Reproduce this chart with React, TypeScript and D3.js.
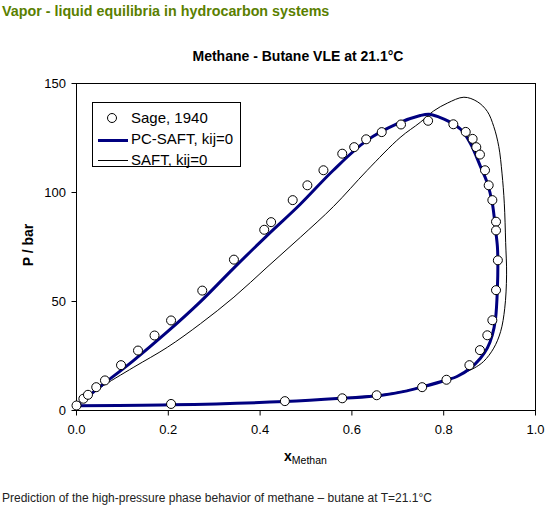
import * as d3 from 'd3'

// x = mole fraction methane, P in bar
const sageBubble: [number, number][] = [
  [0.0, 2.3], [0.015, 5.4], [0.025, 7.2], [0.043, 10.7], [0.062, 13.8],
  [0.097, 20.8], [0.134, 27.5], [0.17, 34.4], [0.206, 41.3], [0.274, 55.0],
  [0.343, 69.2], [0.409, 82.9], [0.424, 86.4], [0.471, 96.5], [0.503, 103.3],
  [0.538, 110.2], [0.579, 117.8], [0.605, 120.8], [0.631, 124.4], [0.665, 127.7],
  [0.707, 131.2], [0.766, 132.9],
]

const sageDew: [number, number][] = [
  [0.821, 131.3], [0.848, 127.8], [0.863, 124.6], [0.871, 120.8], [0.879, 117.4],
  [0.89, 110.2], [0.898, 103.3], [0.906, 96.5], [0.914, 86.6], [0.914, 82.6],
  [0.918, 68.9], [0.914, 55.2], [0.906, 41.4], [0.895, 34.5], [0.879, 27.7],
  [0.856, 20.8], [0.806, 14.1], [0.753, 10.7], [0.654, 7.0], [0.579, 5.6],
  [0.454, 4.3], [0.206, 3.0],
]

const pcSaft: [number, number][] = [
  [0.0, 2.2], [0.03, 7.3], [0.051, 10.9], [0.124, 22.9], [0.197, 35.9],
  [0.269, 49.7], [0.342, 65.2], [0.414, 80], [0.487, 94.5], [0.559, 110.1],
  [0.632, 123.8], [0.698, 131.5], [0.749, 135.3], [0.768, 135.9], [0.79, 134.6],
  [0.811, 132.6], [0.837, 129], [0.858, 122.6], [0.88, 112], [0.895, 104.3],
  [0.906, 95], [0.913, 82.9], [0.917, 75.2], [0.918, 68.3], [0.917, 56.1],
  [0.913, 42.3], [0.906, 34.7], [0.895, 28.6], [0.88, 24], [0.858, 19.4],
  [0.829, 15.6], [0.808, 14.1], [0.757, 11], [0.72, 9], [0.662, 6.9],
  [0.579, 5.6], [0.454, 4.1], [0.206, 2.6], [0.0, 2.2],
]

const saft: [number, number][] = [
  [0.0, 2.2], [0.03, 7.0], [0.052, 10.5], [0.125, 19.9], [0.198, 29.0],
  [0.27, 39.8], [0.343, 52], [0.415, 65.7], [0.488, 79.5], [0.56, 93.6],
  [0.633, 110.1], [0.705, 125.2], [0.749, 132.2], [0.778, 137.4], [0.808, 141],
  [0.844, 143.7], [0.873, 141.7], [0.895, 137.2], [0.909, 130.3], [0.92, 121.1],
  [0.927, 108.9], [0.932, 95.1], [0.935, 77], [0.937, 62.2], [0.933, 46.9],
  [0.924, 36.2], [0.909, 28.6], [0.887, 22.5], [0.866, 19.4], [0.851, 17.9],
  [0.83, 15.8], [0.808, 14.3], [0.757, 11.2], [0.72, 9.2], [0.662, 7.2],
  [0.579, 5.8], [0.454, 4.2], [0.206, 2.7], [0.0, 2.2],
]

const xTicks = [0, 0.2, 0.4, 0.6, 0.8, 1.0]
const yTicks = [0, 50, 100, 150]
const legendItems = ['Sage, 1940', 'PC-SAFT, kij=0', 'SAFT, kij=0']

const font = 'Arial, "Liberation Sans", sans-serif'

const App = () => {
  const x = d3.scaleLinear().domain([0, 1]).range([76.5, 535.5])
  const y = d3.scaleLinear().domain([0, 150]).range([410.5, 83.5])

  const line = d3.line<[number, number]>()
    .x(d => x(d[0]))
    .y(d => y(d[1]))
    .curve(d3.curveCatmullRom.alpha(0.5))

  const points = [...sageBubble, ...sageDew]

  return (
    <svg width={551} height={512} style={{ position: 'absolute', left: 0, top: 0, background: '#fff' }} fontFamily={font}>
      <text x={2} y={16} fontSize={14.3} fontWeight="bold" fill="#5a8000">
        Vapor - liquid equilibria in hydrocarbon systems
      </text>
      <text x={298} y={61} fontSize={14} fontWeight="bold" textAnchor="middle">
        Methane - Butane VLE at 21.1°C
      </text>

      {/* plot frame */}
      <rect x={x(0)} y={y(150)} width={x(1) - x(0)} height={y(0) - y(150)} fill="none" stroke="#000" />

      {yTicks.map(t => (
        <g key={t}>
          <line x1={x(0) - 5} x2={x(0)} y1={y(t)} y2={y(t)} stroke="#000" />
          <text x={66} y={y(t) + 4.5} fontSize={13} textAnchor="end">{t}</text>
        </g>
      ))}
      {xTicks.map(t => (
        <g key={t}>
          <line x1={x(t)} x2={x(t)} y1={y(0)} y2={y(0) + 5} stroke="#000" />
          <text x={x(t)} y={434} fontSize={13} textAnchor="middle">{t.toFixed(1)}</text>
        </g>
      ))}

      <text transform="translate(33,245) rotate(-90)" fontSize={14} fontWeight="bold" textAnchor="middle">P / bar</text>
      <text x={284} y={461} fontSize={14} fontWeight="bold">
        x<tspan fontSize={10.5} fontWeight="normal" dy={3}>Methan</tspan>
      </text>

      <path d={line(saft) ?? ''} fill="none" stroke="#000" strokeWidth={1} />
      <path d={line(pcSaft) ?? ''} fill="none" stroke="#000080" strokeWidth={3} />
      {points.map((d, i) => (
        <circle key={i} cx={x(d[0])} cy={y(d[1])} r={4.5} fill="#fff" stroke="#000" />
      ))}

      {/* legend */}
      <rect x={92.5} y={102.5} width={148} height={64} fill="#fff" stroke="#000" />
      <circle cx={112} cy={118} r={4.5} fill="#fff" stroke="#000" />
      <line x1={98} x2={128} y1={140.5} y2={140.5} stroke="#000080" strokeWidth={3} />
      <line x1={98} x2={128} y1={160.5} y2={160.5} stroke="#000" />
      {legendItems.map((s, i) => (
        <text key={s} x={131} y={123 + i * 21} fontSize={15}>{s}</text>
      ))}

      <text x={2} y={502} fontSize={12} fill="#222">
        Prediction of the high-pressure phase behavior of methane – butane at T=21.1°C
      </text>
    </svg>
  )
}

export default App
